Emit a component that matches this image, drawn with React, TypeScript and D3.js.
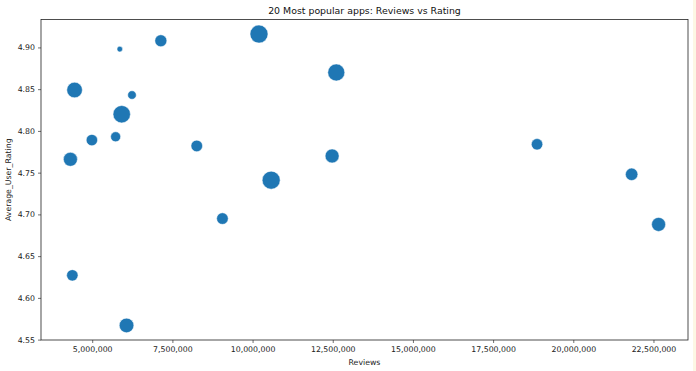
import React, { useEffect, useRef } from 'react';
import * as d3 from 'd3';

// Reviews (count), average rating and a popularity weight used for marker size
const reviews = [
  10200000, 7140000, 5860000, 4450000, 6240000, 5920000, 4990000, 5730000, 4320000, 8260000,
  12610000, 12480000, 10580000, 18870000, 21820000, 22660000, 9060000, 4380000, 6070000,
];
const ratings = [
  4.916, 4.908, 4.898, 4.849, 4.843, 4.82, 4.789, 4.793, 4.766, 4.782,
  4.87, 4.77, 4.741, 4.784, 4.748, 4.688, 4.695, 4.627, 4.567,
];
const popularity = [
  1000, 444, 97, 751, 228, 934, 401, 309, 605, 415,
  892, 605, 1000, 401, 475, 605, 415, 401, 658,
];

const xTicks = [5000000, 7500000, 10000000, 12500000, 15000000, 17500000, 20000000, 22500000];
const yTicks = [4.55, 4.6, 4.65, 4.7, 4.75, 4.8, 4.85, 4.9];

const title = '20 Most popular apps: Reviews vs Rating';
const xLabel = 'Reviews';
const yLabel = 'Average_User_Rating';

export default function App() {
  const svgRef = useRef<SVGSVGElement>(null);
  const width = 696;
  const height = 371;

  useEffect(() => {
    if (!svgRef.current) return;
    const svg = d3.select(svgRef.current);
    svg.selectAll('*').remove();

    const margin = { top: 19.5, right: 8, bottom: 31, left: 41 };
    const font = 'DejaVu Sans, sans-serif';

    const pad = (ext: [number, number]) => {
      const p = (ext[1] - ext[0]) * 0.05;
      return [ext[0] - p, ext[1] + p];
    };

    const x = d3.scaleLinear()
      .domain(pad(d3.extent(reviews) as [number, number]))
      .range([margin.left, width - margin.right]);
    const y = d3.scaleLinear()
      .domain(pad(d3.extent(ratings) as [number, number]))
      .range([height - margin.bottom, margin.top]);
    const r = d3.scaleSqrt().domain([0, 1000]).range([0, 9]);

    svg.append('rect').attr('width', width).attr('height', height).attr('fill', '#ffffff');
    svg.append('rect').attr('x', 693).attr('width', 3).attr('height', height).attr('fill', '#fcf7e4');

    const fmt = d3.format(',');

    // X axis
    const xAxis = svg.append('g')
      .attr('transform', `translate(0,${height - margin.bottom})`)
      .call(d3.axisBottom(x).tickValues(xTicks).tickFormat(d => fmt(d as number)).tickSizeOuter(0).tickSize(3).tickPadding(3));
    xAxis.select('.domain').remove();
    xAxis.selectAll('text').attr('font-family', font).attr('font-size', 7.8).attr('fill', '#222');
    xAxis.selectAll('line').attr('stroke', '#333').attr('stroke-width', 0.7);

    // Y axis
    const yAxis = svg.append('g')
      .attr('transform', `translate(${margin.left},0)`)
      .call(d3.axisLeft(y).tickValues(yTicks).tickFormat(d3.format('.2f')).tickSizeOuter(0).tickSize(3).tickPadding(3));
    yAxis.select('.domain').remove();
    yAxis.selectAll('text').attr('font-family', font).attr('font-size', 7.8).attr('fill', '#222');
    yAxis.selectAll('line').attr('stroke', '#333').attr('stroke-width', 0.7);

    // Points
    svg.append('g')
      .selectAll('circle')
      .data(reviews.map((v, i) => ({ v, rating: ratings[i], size: popularity[i] })))
      .join('circle')
      .attr('cx', d => x(d.v))
      .attr('cy', d => y(d.rating))
      .attr('r', d => r(d.size))
      .attr('fill', '#1f77b4')
      .attr('stroke', '#ffffff')
      .attr('stroke-width', 0.5);

    // Frame
    svg.append('rect')
      .attr('x', margin.left)
      .attr('y', margin.top)
      .attr('width', width - margin.left - margin.right)
      .attr('height', height - margin.top - margin.bottom)
      .attr('fill', 'none')
      .attr('stroke', '#222')
      .attr('stroke-width', 0.8);

    // Title and labels
    svg.append('text')
      .attr('x', (margin.left + width - margin.right) / 2)
      .attr('y', 14)
      .attr('text-anchor', 'middle')
      .attr('font-family', font)
      .attr('font-size', 9.4)
      .attr('fill', '#111')
      .text(title);

    svg.append('text')
      .attr('x', (margin.left + width - margin.right) / 2)
      .attr('y', 365)
      .attr('text-anchor', 'middle')
      .attr('font-family', font)
      .attr('font-size', 7.8)
      .attr('fill', '#222')
      .text(xLabel);

    svg.append('text')
      .attr('transform', `translate(11,${(margin.top + height - margin.bottom) / 2}) rotate(-90)`)
      .attr('text-anchor', 'middle')
      .attr('font-family', font)
      .attr('font-size', 7.8)
      .attr('fill', '#222')
      .text(yLabel);
  }, []);

  return (
    <svg ref={svgRef} width={width} height={height}
      style={{ position: 'absolute', left: 0, top: 0, display: 'block' }} />
  );
}
